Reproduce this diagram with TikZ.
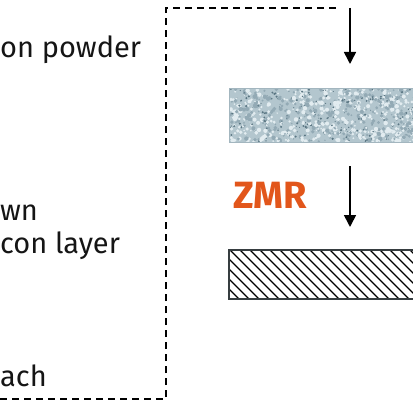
\documentclass[tikz,border=0pt]{standalone}
\usepackage{fontspec}
\setmainfont{Fira Sans}
\usetikzlibrary{arrows.meta}
\definecolor{zmrorange}{HTML}{E2561B}
\definecolor{powderbase}{HTML}{B3C6CE}
\definecolor{powderedge}{HTML}{A3B6BF}
\definecolor{specklight}{HTML}{E2ECF0}
\definecolor{speckmid}{HTML}{93AAB5}
\definecolor{speckdark}{HTML}{5A7683}
\definecolor{hatchedge}{HTML}{363D40}
\definecolor{textdark}{HTML}{151515}
\tikzset{
  labeltext/.style={font=\fontsize{29}{32}\selectfont, text=textdark, inner sep=0pt, anchor=base west},
  zmrtext/.style={font=\fontsize{38}{42}\selectfont\bfseries, text=zmrorange, inner sep=0pt, anchor=base west},
  dashpath/.style={line width=1.6pt, dash pattern=on 7pt off 5pt},
  flowarrow/.style={line width=1.6pt, -{Triangle[width=12pt,length=12pt]}},
}
\begin{document}
\begin{tikzpicture}[x=1pt,y=-1pt]
\useasboundingbox (0,0) rectangle (412,412);
% texts
\node[labeltext] (powdertxt) at (0,57) {on powder};
\node[labeltext] (wntxt) at (0,220) {wn};
\node[labeltext] (layertxt) at (0,253) {con layer};
\node[labeltext] (achtxt) at (0,386) {ach};
\node[zmrtext] (zmr) at (233,208) {ZMR};
% dashed return path
\coordinate (dstart) at (0,399);
\coordinate (dcorner1) at (166,399);
\coordinate (dcorner2) at (166,8);
\coordinate (dend) at (340,8);
\draw[dashpath] (dstart) -- (dcorner1) -- (dcorner2) -- (dend);
% powder bar
\coordinate (pbl) at (229,142);
\coordinate (ptr) at (420,88);
\fill[powderbase] (pbl) rectangle (ptr);
\begin{scope}
  \clip (pbl) rectangle (ptr);
  \pgfmathsetseed{12}
  \foreach \i in {1,...,900}{
    \pgfmathsetmacro{\xx}{229+rnd*190}
    \pgfmathsetmacro{\yy}{88+rnd*54}
    \pgfmathsetmacro{\rr}{0.8+rnd*1.5}
    \pgfmathsetmacro{\cc}{rnd}
    \ifdim\cc pt<0.45pt
      \fill[specklight] (\xx,\yy) circle (\rr);
    \else\ifdim\cc pt<0.8pt
      \fill[speckmid] (\xx,\yy) circle (\rr);
    \else
      \fill[speckdark] (\xx,\yy) circle (\rr*0.55);
    \fi\fi
  }
\end{scope}
\draw[powderedge, line width=1pt] (pbl) rectangle (ptr);
% hatched bar
\coordinate (hbl) at (229,299);
\coordinate (htr) at (420,250);
\fill[white] (hbl) rectangle (htr);
\begin{scope}
  \clip (hbl) rectangle (htr);
  \foreach \k in {-6,...,24}{
    \draw[line width=1.3pt, black] (200+\k*10,240) -- ++(70,70);
  }
\end{scope}
\draw[hatchedge, line width=2pt] (hbl) rectangle (htr);
% arrows
\coordinate (a1s) at (350,8);
\coordinate (a1e) at (350,64);
\coordinate (a2s) at (350,166);
\coordinate (a2e) at (350,227);
\draw[flowarrow] (a1s) -- (a1e);
\draw[flowarrow] (a2s) -- (a2e);
\end{tikzpicture}
\end{document}
